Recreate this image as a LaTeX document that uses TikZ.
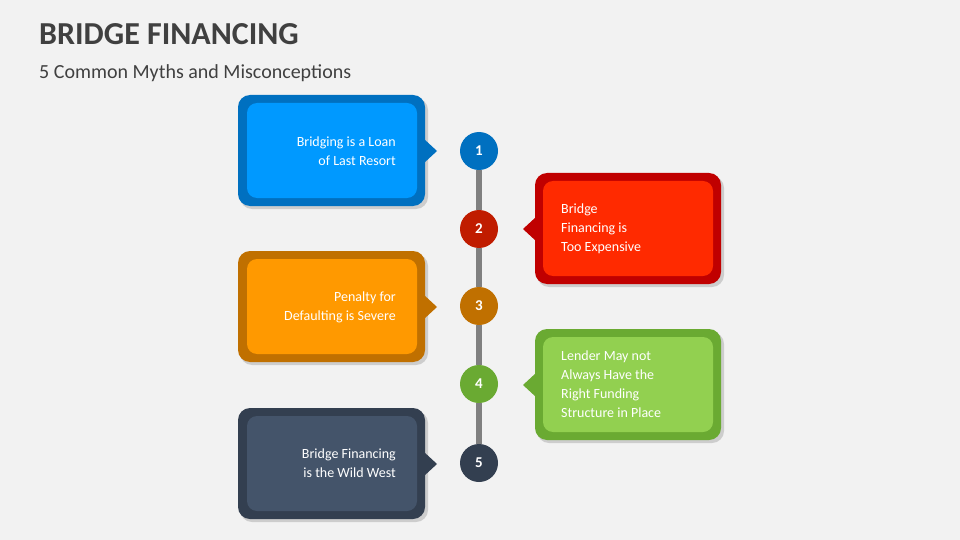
\documentclass[tikz,border=0pt]{standalone}
\usepackage{fontspec}
\setmainfont{Carlito}
\begin{document}
\begin{tikzpicture}[x=1pt,y=-1pt,
  txt/.style={text=white,font=\fontsize{14}{19}\selectfont,inner sep=0},
  num/.style={circle,minimum size=38pt,inner sep=0,text=white,font=\bfseries\fontsize{15}{15}\selectfont}]
\definecolor{bg}{HTML}{F2F2F2}
\definecolor{oA}{HTML}{0070C0}\definecolor{iA}{HTML}{0099FF}
\definecolor{oB}{HTML}{C00000}\definecolor{iB}{HTML}{FF2A00}\definecolor{cB}{HTML}{C01C00}
\definecolor{oC}{HTML}{C07000}\definecolor{iC}{HTML}{FF9900}
\definecolor{oD}{HTML}{6AAA32}\definecolor{iD}{HTML}{92D050}
\definecolor{oE}{HTML}{333F50}\definecolor{iE}{HTML}{44546A}
\fill[bg] (0,0) rectangle (960,540);
\useasboundingbox (0,0) rectangle (960,540);
\node[anchor=west,inner sep=0,text=black!75,font=\bfseries\fontsize{32}{32}\selectfont] (title) at (39,34) {BRIDGE FINANCING};
\node[anchor=west,inner sep=0,text=black!75,font=\fontsize{20}{20}\selectfont] (sub) at (39,73) {5 Common Myths and Misconceptions};
\foreach \n/\o/\i/\y in {1/oA/iA/95,3/oC/iC/251,5/oE/iE/408}{
  \fill[black,opacity=0.15,rounded corners=12pt] (240,{\y+3}) rectangle (428,{\y+114});
  \fill[\o,rounded corners=12pt] (238,\y) rectangle (425,{\y+111});
  \fill[\o] (424,{\y+44}) -- (437,{\y+56}) -- (424,{\y+68}) -- cycle;
  \fill[\i,rounded corners=10pt] (247,{\y+8}) rectangle (417,{\y+103});
}
\foreach \n/\o/\i/\y in {2/oB/iB/173,4/oD/iD/329}{
  \fill[black,opacity=0.15,rounded corners=12pt] (537,{\y+3}) rectangle (724,{\y+114});
  \fill[\o,rounded corners=12pt] (535,\y) rectangle (721,{\y+111});
  \fill[\o] (536,{\y+44}) -- (523,{\y+56}) -- (536,{\y+68}) -- cycle;
  \fill[\i,rounded corners=10pt] (543,{\y+8}) rectangle (713,{\y+103});
}
\node[num,fill=oA] (c1) at (479,151) {1};
\node[num,fill=cB] (c2) at (479,229) {2};
\node[num,fill=oC] (c3) at (479,306) {3};
\node[num,fill=oD] (c4) at (479,384) {4};
\node[num,fill=oE] (c5) at (479,463) {5};
\foreach \a/\b in {c1/c2,c2/c3,c3/c4,c4/c5}
  \draw[line width=6pt,gray] (\a.south) -- (\b.north);
\node[txt,anchor=east,align=right] (t1) at (396,151) {Bridging is a Loan\\of Last Resort};
\node[txt,anchor=west,align=left] (t2) at (561,229) {Bridge\\Financing is\\Too Expensive};
\node[txt,anchor=east,align=right] (t3) at (396,307) {Penalty for\\Defaulting is Severe};
\node[txt,anchor=west,align=left] (t4) at (561,384) {Lender May not\\Always Have the\\Right Funding\\Structure in Place};
\node[txt,anchor=east,align=right] (t5) at (396,463) {Bridge Financing\\is the Wild West};
\end{tikzpicture}
\end{document}
